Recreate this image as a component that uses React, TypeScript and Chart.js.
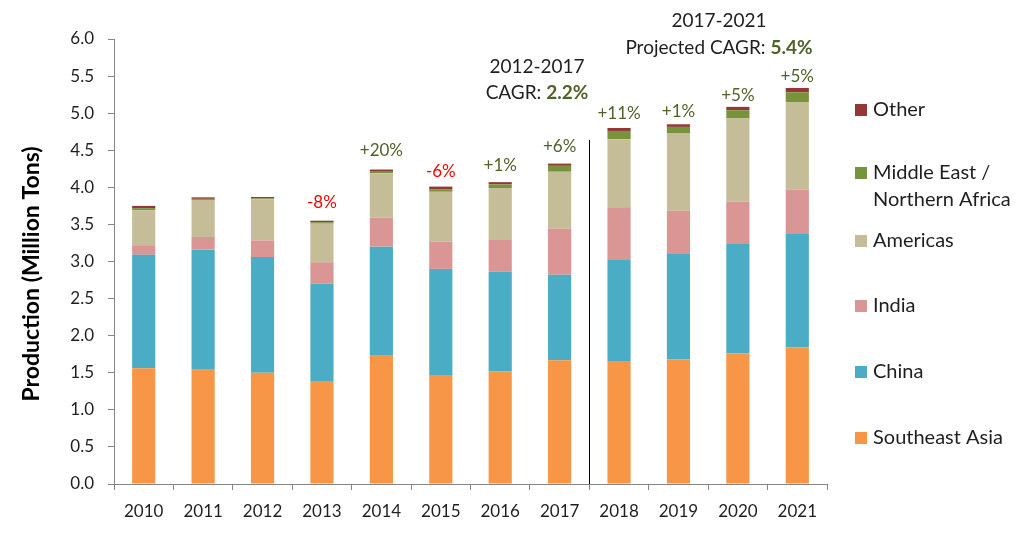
import React, { useEffect, useRef } from "react";
import { Chart, registerables } from "chart.js";
Chart.register(...registerables);

const years = ["2010", "2011", "2012", "2013", "2014", "2015", "2016", "2017", "2018", "2019", "2020", "2021"];
const southeastAsia = [1.56, 1.54, 1.5, 1.39, 1.73, 1.47, 1.52, 1.67, 1.66, 1.68, 1.76, 1.84];
const china = [1.53, 1.62, 1.56, 1.31, 1.47, 1.43, 1.34, 1.15, 1.37, 1.43, 1.475, 1.54];
const india = [0.13, 0.17, 0.225, 0.29, 0.39, 0.37, 0.43, 0.62, 0.7, 0.575, 0.575, 0.59];
const americas = [0.47, 0.5, 0.555, 0.52, 0.6, 0.67, 0.7, 0.77, 0.92, 1.04, 1.12, 1.18];
const middleEastNorthernAfrica = [0.03, 0.015, 0.01, 0.02, 0.03, 0.03, 0.05, 0.08, 0.11, 0.09, 0.11, 0.13];
const other = [0.03, 0.02, 0.02, 0.02, 0.02, 0.04, 0.03, 0.03, 0.04, 0.035, 0.045, 0.06];
const growthLabels = ["", "", "", "-8%", "+20%", "-6%", "+1%", "+6%", "+11%", "+1%", "+5%", "+5%"];
// level (in million tons) at which each growth label sits
const growthLabelLevels = [0, 0, 0, 3.79, 4.5, 4.21, 4.3, 4.55, 5.0, 5.02, 5.24, 5.49];
const seriesNames = ["Southeast Asia", "China", "India", "Americas", "Middle East / Northern Africa", "Other"];
const seriesColors = ["#F79646", "#4BACC6", "#D99694", "#C4BD97", "#77933C", "#953735"];
const yTicks = [0, 0.5, 1, 1.5, 2, 2.5, 3, 3.5, 4, 4.5, 5, 5.5, 6];
const yAxisTitle = "Production (Million Tons)";
const periodSplitAfter = "2017";
const cagrHistoric = { period: "2012-2017", label: "CAGR: ", value: "2.2%" };
const cagrProjected = { period: "2017-2021", label: "Projected CAGR: ", value: "5.4%" };

const FONT = "Lato, 'Open Sans', sans-serif";
const GREEN_TEXT = "#4F6228";
const TEXT = "#1f1f1f";

const overlayPlugin = {
  id: "overlay",
  afterDatasetsDraw(chart: any) {
    const ctx = chart.ctx;
    const xs = chart.scales.x;
    const ys = chart.scales.y;
    const area = chart.chartArea;
    ctx.save();
    // growth labels
    ctx.font = `17px ${FONT}`;
    ctx.textAlign = "center";
    ctx.textBaseline = "middle";
    growthLabels.forEach((g, i) => {
      if (!g) return;
      ctx.fillStyle = g.startsWith("-") ? "#FF0000" : GREEN_TEXT;
      ctx.fillText(g, xs.getPixelForValue(i), ys.getPixelForValue(growthLabelLevels[i]));
    });
    // vertical divider
    const idx = years.indexOf(periodSplitAfter);
    const xLine = (xs.getPixelForValue(idx) + xs.getPixelForValue(idx + 1)) / 2;
    ctx.strokeStyle = "#000";
    ctx.lineWidth = 1;
    ctx.beginPath();
    ctx.moveTo(Math.round(xLine) + 0.5, ys.getPixelForValue(4.64));
    ctx.lineTo(Math.round(xLine) + 0.5, area.bottom);
    ctx.stroke();

    // y axis title
    ctx.save();
    ctx.translate(32, 274);
    ctx.rotate(-Math.PI / 2);
    ctx.font = `bold 23px ${FONT}`;
    ctx.fillStyle = "#000";
    ctx.textAlign = "center";
    ctx.textBaseline = "middle";
    ctx.fillText(yAxisTitle, 0, 0);
    ctx.restore();

    // CAGR annotations
    const drawMixed = (cx: number, y: number, a: string, b: string) => {
      ctx.font = `19px ${FONT}`;
      const wa = ctx.measureText(a).width;
      ctx.font = `bold 19px ${FONT}`;
      const wb = ctx.measureText(b).width;
      const start = cx - (wa + wb) / 2;
      ctx.textAlign = "left";
      ctx.font = `19px ${FONT}`;
      ctx.fillStyle = TEXT;
      ctx.fillText(a, start, y);
      ctx.font = `bold 19px ${FONT}`;
      ctx.fillStyle = GREEN_TEXT;
      ctx.fillText(b, start + wa, y);
    };
    ctx.textBaseline = "middle";
    ctx.textAlign = "center";
    ctx.font = `19px ${FONT}`;
    ctx.fillStyle = TEXT;
    ctx.fillText(cagrHistoric.period, 537, 67);
    drawMixed(537, 93, cagrHistoric.label, cagrHistoric.value);
    ctx.textAlign = "center";
    ctx.font = `19px ${FONT}`;
    ctx.fillStyle = TEXT;
    ctx.fillText(cagrProjected.period, 719, 21);
    drawMixed(719, 48, cagrProjected.label, cagrProjected.value);

    // legend
    const legendY = [110, 173, 241, 306, 372, 438];
    const order = [5, 4, 3, 2, 1, 0];
    order.forEach((di, k) => {
      const y = legendY[k];
      ctx.fillStyle = seriesColors[di];
      ctx.fillRect(855, y - 6, 12, 12);
      ctx.fillStyle = TEXT;
      ctx.font = `20px ${FONT}`;
      ctx.textAlign = "left";
      ctx.textBaseline = "middle";
      const name = seriesNames[di];
      const lines = name.includes(" / ") ? [name.split(" / ")[0] + " /", name.split(" / ")[1]] : [name];
      lines.forEach((ln, j) => ctx.fillText(ln, 873, y + j * 27));
    });
    ctx.restore();
  },
};

export default function App() {
  const ref = useRef<HTMLCanvasElement>(null);
  useEffect(() => {
    if (!ref.current) return;
    const values = [southeastAsia, china, india, americas, middleEastNorthernAfrica, other];
    const chart = new Chart(ref.current, {
      type: "bar",
      data: {
        labels: years,
        datasets: values.map((v, i) => ({
          label: seriesNames[i],
          data: v,
          backgroundColor: seriesColors[i],
          borderWidth: 0,
          barPercentage: 0.39,
          categoryPercentage: 1,
        })),
      },
      options: {
        animation: false,
        responsive: false,
        maintainAspectRatio: false,
        layout: { padding: { left: 0, right: 197, top: 39, bottom: 0 } },
        plugins: { legend: { display: false }, tooltip: { enabled: false } },
        scales: {
          x: {
            stacked: true,
            grid: { display: true, drawOnChartArea: false, drawTicks: true, tickLength: 6, color: "#868686", offset: true },
            border: { display: true, color: "#868686", width: 1 },
            ticks: { color: TEXT, font: { family: FONT, size: 17 }, padding: 11 },
            afterFit: (s: any) => {
              s.height = 54;
            },
          },
          y: {
            stacked: true,
            min: 0,
            max: 6,
            afterBuildTicks: (s: any) => {
              s.ticks = yTicks.map((v) => ({ value: v }));
            },
            grid: { display: true, drawOnChartArea: false, drawTicks: true, tickLength: 6, color: "#868686" },
            border: { display: true, color: "#868686", width: 1 },
            ticks: {
              color: TEXT,
              font: { family: FONT, size: 17 },
              padding: 14,
              callback: (v: any) => Number(v).toFixed(1),
            },
            afterFit: (s: any) => {
              s.width = 114;
            },
          },
        },
      },
      plugins: [overlayPlugin],
    });
    return () => chart.destroy();
  }, []);
  return (
    <div style={{ position: "fixed", left: 0, top: 0, width: 1024, height: 538, background: "#fff" }}>
      <canvas ref={ref} width={1024} height={538} style={{ width: 1024, height: 538 }} />
    </div>
  );
}
